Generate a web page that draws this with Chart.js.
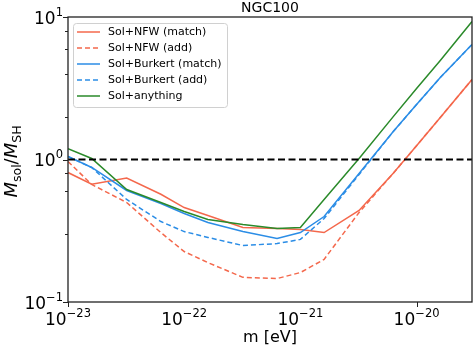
<!DOCTYPE html>
<html lang="en">
<head>
<meta charset="UTF-8">
<title>NGC100</title>
<script src="https://cdn.jsdelivr.net/npm/chart.js@4.4.9/dist/chart.umd.js"></script>
<style>
  html, body { margin: 0; padding: 0; background: #fff; }
  #wrap { width: 474px; height: 347px; }
</style>
</head>
<body>
<div id="wrap"><canvas id="chart" width="474" height="347"></canvas></div>
<script>
// soliton mass grid (eV) and the ratio M_sol / M_SH
const masses = [1e-23, 1.6e-23, 3.2e-23, 6.3e-23, 1e-22, 1.6e-22, 3.2e-22, 6.3e-22,
                1e-21, 1.6e-21, 3.2e-21, 6.3e-21, 1e-20, 1.6e-20, 3e-20];
const nfwMatch     = [0.81, 0.67, 0.74, 0.57, 0.46, 0.405, 0.333, 0.328, 0.323, 0.307, 0.439, 0.80, 1.25, 1.97, 3.64];
const nfwAdd       = [0.968, 0.668, 0.499, 0.307, 0.226, 0.189, 0.149, 0.146, 0.161, 0.199, 0.425, 0.80, 1.25, 1.97, 3.64];
const burkertMatch = [1.05, 0.879, 0.606, 0.491, 0.418, 0.361, 0.312, 0.279, 0.307, 0.398, 0.798, 1.57, 2.43, 3.76, 6.41];
const burkertAdd   = [1.05, 0.879, 0.524, 0.367, 0.312, 0.284, 0.249, 0.257, 0.275, 0.385, 0.785, 1.57, 2.43, 3.76, 6.41];
const anything     = [1.19, 1.016, 0.616, 0.499, 0.432, 0.379, 0.35, 0.328, 0.333, 0.524, 1.016, 2.0, 3.15, 4.95, 9.3];

const seriesNames = ['Sol+NFW (match)', 'Sol+NFW (add)', 'Sol+Burkert (match)', 'Sol+Burkert (add)', 'Sol+anything'];
const xLimits = [1e-23, 3e-20];
const yLimits = [0.1, 10];
const unityLine = [1, 1];
const xTickExps = [-23, -22, -21, -20];
const yTickExps = [-1, 0, 1];

const RED = '#f4684c', BLUE = '#2b8de6', GREEN = '#2a8a2a';
const FONT = '"DejaVu Sans", sans-serif';

function pts(ys) {
    return masses.map((m, i) => ({ x: m, y: ys[i] }));
}

function series(label, ys, color, dashed, order) {
    return {
        label: label,
        data: pts(ys),
        borderColor: color,
        backgroundColor: color,
        borderWidth: 1.5,
        borderDash: dashed ? [5, 3] : [],
        pointRadius: 0,
        tension: 0,
        fill: false,
        order: order
    };
}

// draws "10" with a raised exponent; align = 'right' or 'center'
function drawPow(ctx, x, y, exp, align) {
    const base = '10';
    const sup = (exp < 0 ? '\u2212' : '') + Math.abs(exp);
    ctx.font = '17px ' + FONT;
    const wb = ctx.measureText(base).width;
    ctx.font = '11.5px ' + FONT;
    const ws = ctx.measureText(sup).width;
    const total = wb + ws;
    let left = align === 'right' ? x - total : x - total / 2;
    ctx.fillStyle = '#000';
    ctx.textAlign = 'left';
    ctx.textBaseline = 'alphabetic';
    ctx.font = '17px ' + FONT;
    ctx.fillText(base, left, y);
    ctx.font = '11.5px ' + FONT;
    ctx.fillText(sup, left + wb, y - 8);
}

function isDecade(v) {
    const l = Math.log10(v);
    return Math.abs(l - Math.round(l)) < 1e-6;
}

const decorations = {
    id: 'decorations',
    afterDatasetsDraw(chart) {
        const ctx = chart.ctx;
        const a = chart.chartArea;
        const xs = chart.scales.x, ys = chart.scales.y;
        ctx.save();

        // frame
        ctx.strokeStyle = '#222';
        ctx.lineWidth = 1.3;
        ctx.strokeRect(a.left, a.top, a.right - a.left, a.bottom - a.top);

        // ticks (outward, major and minor)
        ctx.lineWidth = 1;
        ctx.beginPath();
        xs.ticks.forEach(t => {
            const px = Math.round(xs.getPixelForValue(t.value)) + 0.5;
            if (px < a.left - 1 || px > a.right + 1) return;
            const len = isDecade(t.value) ? 5 : 3;
            ctx.moveTo(px, a.bottom);
            ctx.lineTo(px, a.bottom + len);
        });
        ys.ticks.forEach(t => {
            const py = Math.round(ys.getPixelForValue(t.value)) + 0.5;
            const len = isDecade(t.value) ? 5 : 3;
            ctx.moveTo(a.left, py);
            ctx.lineTo(a.left - len, py);
        });
        ctx.stroke();

        // tick labels
        xTickExps.forEach(e => {
            drawPow(ctx, xs.getPixelForValue(Math.pow(10, e)), a.bottom + 23, e, 'center');
        });
        yTickExps.forEach(e => {
            drawPow(ctx, a.left - 5, ys.getPixelForValue(Math.pow(10, e)) + 6.5, e, 'right');
        });

        // title
        ctx.fillStyle = '#000';
        ctx.font = '14px ' + FONT;
        ctx.textAlign = 'center';
        ctx.textBaseline = 'alphabetic';
        ctx.fillText('NGC100', (a.left + a.right) / 2, 12);

        // x axis title
        ctx.font = '16px ' + FONT;
        ctx.fillText('m [eV]', (a.left + a.right) / 2, 342);

        // y axis title: M_sol / M_SH
        const parts = [
            ['italic 18px ' + FONT, 'M', 0],
            ['12.5px ' + FONT, 'sol', 4],
            ['18px ' + FONT, '/', 0],
            ['italic 18px ' + FONT, 'M', 0],
            ['12.5px ' + FONT, 'SH', 4]
        ];
        let total = 0;
        parts.forEach(p => { ctx.font = p[0]; p.push(ctx.measureText(p[1]).width); total += p[3]; });
        ctx.save();
        ctx.translate(17, (a.top + a.bottom) / 2 + 2);
        ctx.rotate(-Math.PI / 2);
        ctx.textAlign = 'left';
        let cx = -total / 2;
        parts.forEach(p => {
            ctx.font = p[0];
            ctx.fillText(p[1], cx, p[2]);
            cx += p[3];
        });
        ctx.restore();

        // legend
        const lx = 73, ly = 23, lw = 154, lh = 84;
        ctx.fillStyle = 'rgba(255,255,255,0.85)';
        ctx.strokeStyle = '#d0d0d0';
        ctx.lineWidth = 1;
        ctx.beginPath();
        ctx.roundRect(lx + 0.5, ly + 0.5, lw, lh, 3);
        ctx.fill();
        ctx.stroke();
        ctx.font = '11px ' + FONT;
        ctx.textAlign = 'left';
        ctx.textBaseline = 'middle';
        chart.data.datasets.forEach((ds, i) => {
            if (i >= seriesNames.length) return;
            const ry = 32 + i * 16;
            ctx.strokeStyle = ds.borderColor;
            ctx.lineWidth = 1.5;
            ctx.setLineDash(ds.borderDash);
            ctx.beginPath();
            ctx.moveTo(77, ry);
            ctx.lineTo(100, ry);
            ctx.stroke();
            ctx.setLineDash([]);
            ctx.fillStyle = '#000';
            ctx.fillText(ds.label, 108, ry + 0.5);
        });

        ctx.restore();
    }
};

new Chart(document.getElementById('chart'), {
    type: 'line',
    data: {
        datasets: [
            series(seriesNames[0], nfwMatch, RED, false, 6),
            series(seriesNames[1], nfwAdd, RED, true, 5),
            series(seriesNames[2], burkertMatch, BLUE, false, 4),
            series(seriesNames[3], burkertAdd, BLUE, true, 3),
            series(seriesNames[4], anything, GREEN, false, 2),
            {
                label: 'unity',
                data: xLimits.map((x, i) => ({ x: x, y: unityLine[i] })),
                borderColor: '#000',
                borderWidth: 2,
                borderDash: [7, 3.5],
                pointRadius: 0,
                fill: false,
                order: 1
            }
        ]
    },
    options: {
        responsive: false,
        animation: false,
        devicePixelRatio: 1,
        layout: { padding: { left: 68, right: 2, top: 17, bottom: 45 } },
        plugins: {
            legend: { display: false },
            title: { display: false },
            tooltip: { enabled: false }
        },
        scales: {
            x: { type: 'logarithmic', min: xLimits[0], max: xLimits[1], display: false },
            y: { type: 'logarithmic', min: yLimits[0], max: yLimits[1], display: false }
        }
    },
    plugins: [decorations]
});
</script>
</body>
</html>
